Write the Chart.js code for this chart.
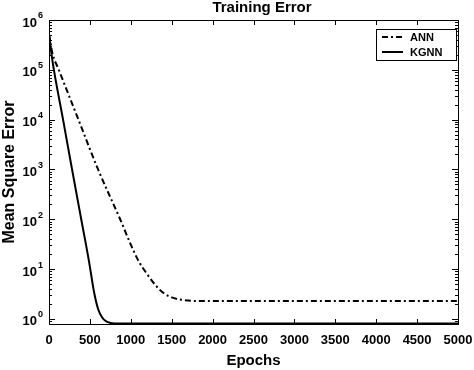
<!DOCTYPE html>
<html>
<head>
<meta charset="utf-8">
<script src="https://cdn.jsdelivr.net/npm/chart.js@4.4.1/dist/chart.umd.min.js"></script>
<style>
  html, body { margin: 0; padding: 0; background: #fff; }
  #wrap { width: 474px; height: 370px; }
</style>
</head>
<body>
<div id="wrap"><canvas id="chartTrain" width="474" height="370"></canvas></div>
<script>
// epochs / mean square error
var annEpochs = [0, 40, 120, 360, 600, 870, 1000, 1100, 1200, 1300, 1400, 1500, 1600, 1700, 1800, 5000];
var annErr    = [5.2e5, 2.2e5, 1.0e5, 1.0e4, 1.0e3, 100, 31, 14, 7.9, 4.8, 3.3, 2.7, 2.45, 2.34, 2.29, 2.29];

var kgnnEpochs = [0, 40, 172, 282, 394, 490, 550, 600, 650, 700, 750, 800, 5000];
var kgnnErr    = [5.2e5, 1.6e5, 1.0e4, 1.0e3, 100, 14, 3.5, 1.58, 1.07, 0.89, 0.83, 0.81, 0.81];

var yMajor = [1, 10, 100, 1000, 10000, 100000, 1000000];
var yExp   = ['0', '1', '2', '3', '4', '5', '6'];
var xTicks = [0, 500, 1000, 1500, 2000, 2500, 3000, 3500, 4000, 4500, 5000];

var FONT = "'Liberation Sans', Arial, Helvetica, sans-serif";
Chart.defaults.font.family = FONT;
Chart.defaults.color = '#000';

function pts(xs, ys) {
	var out = [];
	for (var i = 0; i < xs.length; i++) out.push({x: xs[i], y: ys[i]});
	return out;
}

// box, inward ticks, exponents, title and legend (matlab look)
var matlabAxes = {
	id: 'matlabAxes',
	beforeDatasetsDraw: function(chart) {
		var ctx = chart.ctx, a = chart.chartArea;
		var xs = chart.scales.x, ys = chart.scales.y;
		ctx.save();
		ctx.strokeStyle = '#000';
		ctx.lineWidth = 1;
		ctx.strokeRect(a.left + 0.5, a.top + 0.5, a.right - a.left, a.bottom - a.top);
		ctx.beginPath();
		xTicks.forEach(function(v) {
			var px = Math.round(xs.getPixelForValue(v)) + 0.5;
			ctx.moveTo(px, a.bottom); ctx.lineTo(px, a.bottom - 5);
			ctx.moveTo(px, a.top); ctx.lineTo(px, a.top + 5);
		});
		for (var d = -1; d < 6; d++) {
			for (var m = 1; m < 10; m++) {
				var v = m * Math.pow(10, d);
				if (v < ys.min || v > ys.max) continue;
				var py = Math.round(ys.getPixelForValue(v)) + 0.5;
				var len = (m == 1) ? 6 : 3;
				ctx.moveTo(a.left, py); ctx.lineTo(a.left + len, py);
				ctx.moveTo(a.right, py); ctx.lineTo(a.right - len, py);
			}
		}
		ctx.stroke();
		ctx.restore();
	},
	afterDraw: function(chart) {
		var ctx = chart.ctx, a = chart.chartArea, ys = chart.scales.y;
		ctx.save();
		ctx.fillStyle = '#000';
		// exponents of the y tick labels
		ctx.font = 'bold 9px ' + FONT;
		ctx.textAlign = 'left';
		ctx.textBaseline = 'middle';
		yMajor.forEach(function(v, i) {
			var py = ys.getPixelForValue(v);
			ctx.fillText(yExp[i], a.left - 11, py - 4);
		});
		// title
		ctx.font = 'bold 15px ' + FONT;
		ctx.textAlign = 'center';
		ctx.fillText('Training Error', 262, 8);
		// legend box
		var bx = 376, by = 29, bw = 80, bh = 31;
		ctx.fillStyle = '#fff';
		ctx.fillRect(bx, by, bw, bh);
		ctx.strokeStyle = '#000';
		ctx.lineWidth = 1;
		ctx.strokeRect(bx + 0.5, by + 0.5, bw, bh);
		ctx.font = 'bold 11px ' + FONT;
		ctx.textAlign = 'left';
		chart.data.datasets.forEach(function(ds, i) {
			var ly = by + 8 + i * 15;
			ctx.beginPath();
			ctx.setLineDash(ds.borderDash || []);
			ctx.lineWidth = 2;
			ctx.moveTo(bx + 6, ly); ctx.lineTo(bx + 27, ly);
			ctx.stroke();
			ctx.setLineDash([]);
			ctx.fillStyle = '#000';
			ctx.fillText(ds.label, bx + 34, ly + 0.5);
		});
		ctx.restore();
	}
};

var ctx1 = document.getElementById('chartTrain').getContext('2d');
var chartTrain = new Chart(ctx1, {
	type: 'line',
	data: {
		datasets: [
			{
				label: 'ANN',
				data: pts(annEpochs, annErr),
				borderColor: '#000',
				borderWidth: 2,
				borderDash: [6, 3, 2, 3],
				pointRadius: 0,
				fill: false,
				cubicInterpolationMode: 'monotone'
			},
			{
				label: 'KGNN',
				data: pts(kgnnEpochs, kgnnErr),
				borderColor: '#000',
				borderWidth: 2,
				pointRadius: 0,
				fill: false,
				cubicInterpolationMode: 'monotone'
			}
		]
	},
	options: {
		responsive: false,
		animation: false,
		devicePixelRatio: 1,
		layout: { padding: { top: 20, right: 16, left: 0, bottom: 0 } },
		plugins: {
			legend: { display: false },
			tooltip: { enabled: false },
			title: { display: false }
		},
		scales: {
			x: {
				type: 'linear',
				min: 0,
				max: 5000,
				grid: { display: false, drawTicks: false },
				border: { display: false },
				afterBuildTicks: function(scale) {
					scale.ticks = xTicks.map(function(v) { return {value: v}; });
				},
				afterFit: function(scale) {
					scale.height = 46;
					scale.paddingLeft = 0;
					scale.paddingRight = 0;
				},
				ticks: {
					autoSkip: false,
					maxRotation: 0,
					padding: 9,
					color: '#000',
					font: { size: 13, weight: 'bold' },
					callback: function(v) { return String(v); }
				},
				title: {
					display: true,
					text: 'Epochs',
					color: '#000',
					font: { size: 15, weight: 'bold' },
					padding: { top: 0, bottom: 0 }
				}
			},
			y: {
				type: 'logarithmic',
				min: 0.79,
				max: 1000000,
				grid: { display: false, drawTicks: false },
				border: { display: false },
				afterBuildTicks: function(scale) {
					scale.ticks = yMajor.map(function(v) { return {value: v, major: true}; });
				},
				afterFit: function(scale) {
					scale.width = 49;
					scale.paddingTop = 0;
					scale.paddingBottom = 0;
				},
				ticks: {
					autoSkip: false,
					padding: 12,
					labelOffset: 3,
					color: '#000',
					font: { size: 13, weight: 'bold' },
					callback: function(v) { return '10'; }
				},
				title: {
					display: true,
					text: 'Mean Square Error',
					color: '#000',
					font: { size: 16, weight: 'bold' },
					padding: { top: 0, bottom: 0 }
				}
			}
		}
	},
	plugins: [matlabAxes]
});
</script>
</body>
</html>
